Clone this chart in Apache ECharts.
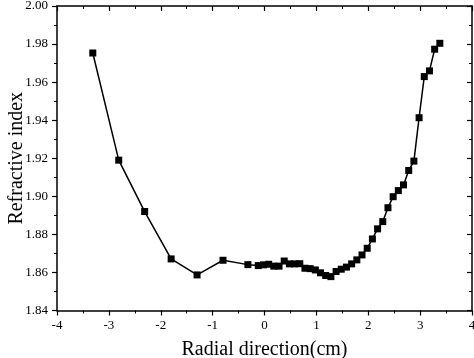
<!DOCTYPE html>
<html>
<head>
<meta charset="utf-8">
<script src="https://cdn.jsdelivr.net/npm/echarts@6/dist/echarts.min.js"></script>
<style>
html,body{margin:0;padding:0;background:#fff;}
#chart{width:474px;height:358px;}
</style>
</head>
<body>
<div id="chart"></div>
<script>
const radialPositions = [-3.31, -2.81, -2.31, -1.80, -1.30, -0.80, -0.32,
  -0.12, -0.02, 0.08, 0.18, 0.28, 0.38, 0.48, 0.58, 0.68, 0.78, 0.88, 0.98,
  1.08, 1.18, 1.28, 1.38, 1.48, 1.58, 1.68, 1.78, 1.88, 1.98, 2.08, 2.18,
  2.28, 2.38, 2.48, 2.58, 2.68, 2.78, 2.88, 2.98, 3.08, 3.18, 3.28, 3.38];
const refractiveIndex = [1.9753, 1.9190, 1.8920, 1.8671, 1.8587, 1.8664, 1.8641,
  1.8636, 1.8640, 1.8643, 1.8633, 1.8633, 1.8660, 1.8645, 1.8645, 1.8646, 1.8622, 1.8620, 1.8613,
  1.8598, 1.8584, 1.8578, 1.8605, 1.8617, 1.8628, 1.8645, 1.8666, 1.8692, 1.8727, 1.8776, 1.8829,
  1.8867, 1.8940, 1.8998, 1.9030, 1.9060, 1.9136, 1.9185, 1.9413, 1.9629, 1.9659, 1.9773, 1.9804];
const xTitle = 'Radial direction(cm)';
const yTitle = 'Refractive index';

const font = 'Liberation Serif';
const chart = echarts.init(document.getElementById('chart'), null, {renderer: 'canvas'});
const axisLine = {show: true, onZero: false, lineStyle: {color: '#000', width: 1.5}};
const xBase = {type: 'value', min: -4, max: 4, interval: 1, splitLine: {show: false}};
const yBase = {type: 'value', min: 1.84, max: 2.00, interval: 0.02, splitLine: {show: false}};
chart.setOption({
  animation: false,
  backgroundColor: '#fff',
  grid: {left: 57, right: 2, top: 6, bottom: 47.5, containLabel: false, outerBoundsMode: 'none'},
  xAxis: [
    Object.assign({}, xBase, {
      position: 'bottom',
      name: xTitle, nameLocation: 'middle', nameGap: 29, nameMoveOverlap: false,
      nameTextStyle: {fontFamily: font, fontSize: 20, color: '#000'},
      axisLine: axisLine,
      axisTick: {show: true, inside: false, length: 5, lineStyle: {color: '#000', width: 1.2}},
      minorTick: {show: true, splitNumber: 2, length: 3, lineStyle: {color: '#000', width: 1}},
      axisLabel: {fontFamily: font, fontSize: 13, color: '#000', margin: 9}
    }),
    Object.assign({}, xBase, {
      position: 'top',
      axisLine: axisLine,
      axisTick: {show: true, inside: true, length: 5, lineStyle: {color: '#000', width: 1.2}},
      minorTick: {show: true, splitNumber: 2, length: 3, lineStyle: {color: '#000', width: 1}},
      axisLabel: {show: false}
    })
  ],
  yAxis: [
    Object.assign({}, yBase, {
      position: 'left',
      name: yTitle, nameLocation: 'middle', nameGap: 30, nameMoveOverlap: false,
      nameTextStyle: {fontFamily: font, fontSize: 20, color: '#000'},
      axisLine: axisLine,
      axisTick: {show: true, inside: false, length: 5, lineStyle: {color: '#000', width: 1.2}},
      minorTick: {show: true, splitNumber: 2, length: 3, lineStyle: {color: '#000', width: 1}},
      axisLabel: {fontFamily: font, fontSize: 13, color: '#000', margin: 9,
        formatter: v => v.toFixed(2)}
    }),
    Object.assign({}, yBase, {
      position: 'right',
      axisLine: axisLine,
      axisTick: {show: true, inside: true, length: 5, lineStyle: {color: '#000', width: 1.2}},
      minorTick: {show: true, splitNumber: 2, length: 3, lineStyle: {color: '#000', width: 1}},
      axisLabel: {show: false}
    })
  ],
  series: [{
    type: 'line',
    xAxisIndex: 0, yAxisIndex: 0,
    data: radialPositions.map((x, i) => [x, refractiveIndex[i]]),
    symbol: 'rect', symbolSize: 7,
    itemStyle: {color: '#000'},
    lineStyle: {color: '#000', width: 1.5},
    clip: false
  }]
});
</script>
</body>
</html>
